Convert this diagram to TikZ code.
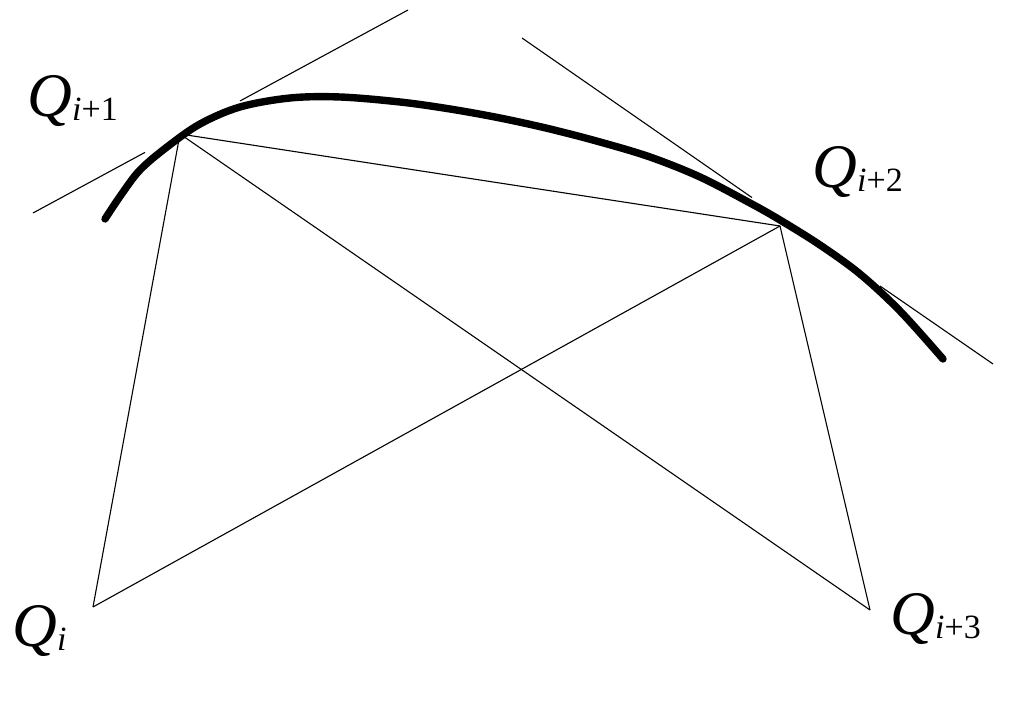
\documentclass[tikz,border=0pt]{standalone}
\usepackage{fontspec}
\setmainfont{Liberation Serif}
\newcommand\Qlab[1]{\textit{Q}\raisebox{-2pt}{\fontsize{17}{17}\selectfont #1}}
\begin{document}
\begin{tikzpicture}[x=0.5pt,y=-0.5pt,
  thinline/.style={line width=0.55pt},
  curvestyle/.style={line width=3.7pt, line cap=round, line join=round},
  lab/.style={anchor=base west, inner sep=0pt, font=\fontsize{31}{31}\selectfont}]
\useasboundingbox[fill=white] (0,0) rectangle (1012,704);
% control points
\coordinate (Q0) at (93,607);
\coordinate (Q1) at (180,134);
\coordinate (Q2) at (780,226);
\coordinate (Q3) at (870,610);
% tangent line ends
\coordinate (T1a) at (33,213);
\coordinate (G1a) at (145,152.4);
\coordinate (G1b) at (240,101);
\coordinate (T1b) at (408,10);
\coordinate (T2a) at (522,38);
\coordinate (G2a) at (752,197.6);
\coordinate (G2b) at (880,286);
\coordinate (T2b) at (993,364);
% polygon lines
\draw[thinline] (Q0) -- (Q1);
\draw[thinline] (Q0) -- (Q2);
\draw[thinline] (Q1) -- (Q2);
\draw[thinline] (Q1) -- (Q3);
\draw[thinline] (Q2) -- (Q3);
% tangents
\draw[thinline] (T1a) -- (G1a);
\draw[thinline] (G1b) -- (T1b);
\draw[thinline] (T2a) -- (G2a);
\draw[thinline] (G2b) -- (T2b);
% curve
\draw[curvestyle] plot[smooth, tension=0.55] coordinates {
 (105,219) (121,195) (140,170) (167,147) (200,124) (240,107) (290,98)
 (340,97) (400,102) (450,109) (500,118) (550,129) (600,142) (650,157)
 (700,177) (750,203) (780,220) (820,245) (860,274) (900,311) (943,359)};
% labels
\node[lab] (L0) at (12,647) {\Qlab{\textit{i}}};
\node[lab] (L1) at (27,117) {\Qlab{\textit{i}+1}};
\node[lab] (L2) at (812,188) {\Qlab{\textit{i}+2}};
\node[lab] (L3) at (890,635) {\Qlab{\textit{i}+3}};
\end{tikzpicture}
\end{document}
